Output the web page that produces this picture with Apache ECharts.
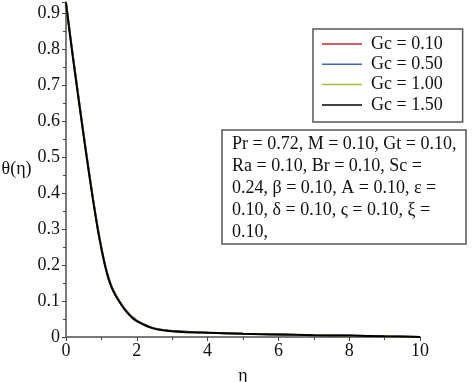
<!DOCTYPE html>
<html>
<head>
<meta charset="utf-8">
<script src="https://cdn.jsdelivr.net/npm/echarts@6/dist/echarts.min.js"></script>
<style>
html,body{margin:0;padding:0;background:#fff;}
#c{width:474px;height:382px;}
</style>
</head>
<body>
<div id="c"></div>
<script>
// Data
const eta = [0,0.1,0.2,0.3,0.4,0.5,0.6,0.7,0.8,0.9,1.0,1.1,1.2,1.3,1.4,1.5,1.6,1.7,1.8,1.9,2.0,2.2,2.4,2.6,2.8,3.0,3.5,4,5,6,7,8,9,10];
const gc010 = [0.928,0.853,0.778,0.706,0.634,0.563,0.494,0.427,0.362,0.302,0.249,0.203,0.166,0.138,0.118,0.101,0.087,0.074,0.063,0.054,0.046,0.035,0.027,0.022,0.019,0.017,0.014,0.012,0.009,0.007,0.005,0.004,0.002,0.000];
const gc050 = [0.928,0.851,0.776,0.704,0.632,0.561,0.492,0.425,0.360,0.300,0.247,0.201,0.164,0.137,0.117,0.100,0.086,0.073,0.062,0.053,0.045,0.035,0.027,0.022,0.019,0.017,0.014,0.012,0.009,0.007,0.005,0.004,0.002,0.000];
const gc100 = [0.928,0.850,0.774,0.702,0.630,0.559,0.490,0.423,0.358,0.298,0.246,0.200,0.163,0.136,0.116,0.099,0.085,0.072,0.061,0.052,0.045,0.034,0.026,0.021,0.018,0.016,0.013,0.012,0.009,0.007,0.005,0.004,0.002,0.000];
const gc150 = [0.928,0.848,0.772,0.700,0.628,0.557,0.488,0.421,0.357,0.297,0.245,0.199,0.162,0.135,0.115,0.099,0.084,0.071,0.060,0.051,0.044,0.034,0.026,0.021,0.018,0.016,0.013,0.012,0.009,0.007,0.005,0.004,0.002,0.000];
const seriesNames = ['Gc = 0.10','Gc = 0.50','Gc = 1.00','Gc = 1.50'];
const seriesColors = ['#d02030','#3a66c8','#a8c040','#000000'];
const xTicks = [0,2,4,6,8,10];
const yTicks = [0,0.1,0.2,0.3,0.4,0.5,0.6,0.7,0.8,0.9];
const paramText = 'Pr = 0.72, M = 0.10, Gt = 0.10,\nRa = 0.10, Br = 0.10, Sc =\n0.24, \u03b2 = 0.10, A = 0.10, \u03b5 =\n0.10, \u03b4 = 0.10, \u03c2 = 0.10, \u03be =\n0.10,';

const serif = 'Liberation Serif';
const allData = [gc010, gc050, gc100, gc150];

const chart = echarts.init(document.getElementById('c'), null, {renderer:'canvas'});
chart.setOption({
  animation: false,
  backgroundColor: '#fff',
  grid: {left: 66, right: 54, top: 2, bottom: 45, outerBoundsMode: 'none', containLabel: false},
  title: {
    text: paramText,
    left: 222, top: 130,
    padding: [3, 6, 1, 10],
    borderColor: '#555', borderWidth: 1.5,
    textStyle: {fontFamily: serif, fontSize: 18, fontWeight: 'normal', color: '#111', lineHeight: 22, width: 228}
  },
  legend: {
    orient: 'vertical',
    left: 313, top: 29,
    padding: [6, 20, 8, 9],
    borderColor: '#555', borderWidth: 1.5,
    icon: 'rect',
    itemWidth: 40, itemHeight: 1.5, itemGap: 2.3,
    data: seriesNames,
    textStyle: {fontFamily: serif, fontSize: 18, color: '#111', lineHeight: 14, padding: [0,0,0,4]}
  },
  xAxis: {
    type: 'value', min: 0, max: 10, interval: 2,
    name: '\u03b7', nameLocation: 'middle', nameGap: 30,
    nameTextStyle: {fontFamily: serif, fontSize: 18, color: '#111'},
    axisLine: {onZero: false, lineStyle: {color: '#7a7a7a', width: 2}},
    axisTick: {length: 4, lineStyle: {color: '#444'}},
    minorTick: {show: true, splitNumber: 2, length: 3, lineStyle: {color: '#444'}},
    splitLine: {show: false},
    axisLabel: {fontFamily: serif, fontSize: 18, color: '#111', margin: 5,
      formatter: v => xTicks.indexOf(v) >= 0 ? String(v) : ''}
  },
  yAxis: {
    type: 'value', min: 0, max: 0.93, interval: 0.1,
    name: '\u03b8(\u03b7)', nameLocation: 'middle', nameGap: 28, nameRotate: 0,
    nameTextStyle: {fontFamily: serif, fontSize: 18, color: '#111', padding: [0,0,22,0]},
    axisLine: {show: true, lineStyle: {color: '#7a7a7a', width: 2}},
    axisTick: {show: true, length: 4, lineStyle: {color: '#444'}},
    minorTick: {show: true, splitNumber: 2, length: 3, lineStyle: {color: '#444'}},
    splitLine: {show: false},
    axisLabel: {fontFamily: serif, fontSize: 18, color: '#111', margin: 6, showMaxLabel: false,
      formatter: v => {
        const m = yTicks.find(t => Math.abs(t - v) < 1e-6);
        if (m === undefined) return '';
        return m === 0 ? '0' : m.toFixed(1);
      }}
  },
  series: seriesNames.map((n, i) => ({
    name: n, type: 'line', smooth: 0.2, symbol: 'none', showSymbol: false,
    color: seriesColors[i],
    lineStyle: {width: i === 3 ? 2 : 1.8, color: seriesColors[i]},
    data: eta.map((x, j) => [x, allData[i][j]]),
    z: 2 + i
  }))
});
</script>
</body>
</html>
